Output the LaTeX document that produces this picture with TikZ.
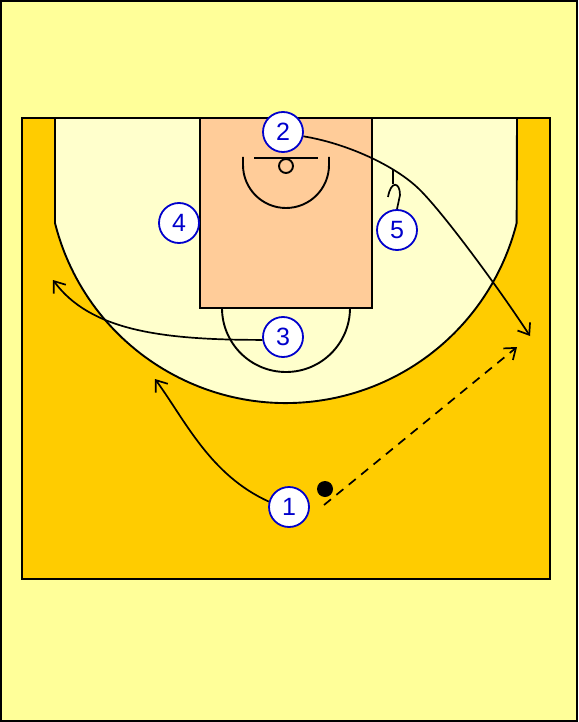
\documentclass[tikz,border=0pt]{standalone}
\usepackage{fontspec}
\setmainfont{Liberation Sans}
\usetikzlibrary{arrows.meta}
\definecolor{bgyel}{RGB}{255,255,153}
\definecolor{courtgold}{RGB}{255,204,0}
\definecolor{cream}{RGB}{255,255,204}
\definecolor{peach}{RGB}{255,204,153}
\definecolor{pblue}{RGB}{0,0,204}
\tikzset{
  player/.style={circle, draw=pblue, fill=white, line width=1.8pt, minimum size=40pt, inner sep=0pt,
    text=pblue, font=\fontsize{25}{25}\selectfont},
  courtline/.style={draw=black, line width=1.9pt},
  move/.style={draw=black, line width=1.7pt, -{Straight Barb[length=10pt,width=15pt,line width=1.7pt]}},
  pass/.style={move, dash pattern=on 9pt off 7pt},
  screenline/.style={draw=black, line width=1.7pt},
}
\begin{document}
\begin{tikzpicture}[x=1pt,y=-1pt]
\useasboundingbox (0,0) rectangle (578,722);
% background
\draw[fill=bgyel, line width=2.2pt] (1,1) rectangle (577,721);
% court
\fill[courtgold] (22,118) rectangle (550,579);
% three point area
\fill[cream] (55,118) -- (55,223) arc[start angle=165.9, end angle=14.1, radius=238] -- (517,118) -- cycle;
\draw[courtline] (55,118) -- (55,223) arc[start angle=165.9, end angle=14.1, radius=238] -- (517,118);
% paint
\draw[courtline, fill=peach] (200,118) rectangle (372,308);
% free throw circle (lower half)
\draw[courtline] (222,308) arc[start angle=180, end angle=0, radius=64];
% restricted area
\draw[courtline] (243,157) -- (243,165) arc[start angle=180, end angle=0, radius=43] -- (329,157);
% backboard and basket
\draw[courtline] (254,158) -- (318,158);
\draw[courtline] (286,166) circle[radius=7];
% court border
\draw[line width=2.3pt] (22,118) rectangle (550,579);

% players
\node[player] (p1) at (289,507) {1};
\node[player] (p2) at (283,132) {2};
\node[player] (p3) at (283,337) {3};
\node[player] (p4) at (179,223) {4};
\node[player] (p5) at (397,230) {5};
% ball
\node[circle, fill=black, minimum size=16pt, inner sep=0pt] (ball) at (325,489) {};

% end points
\coordinate (e2) at (530,336);
\coordinate (m2) at (420,190);
\coordinate (e3) at (53,280);
\coordinate (e1) at (155,379);
\coordinate (ps) at (324,505);
\coordinate (pe) at (517,347);
\coordinate (s5a) at (400,195);
\coordinate (s5b) at (388,197);
\coordinate (s5c) at (393,184);
\coordinate (s5d) at (393,169);

% movements
\draw[move] (p2.-12) .. controls (345,143) and (395,165) .. (m2) .. controls (445,215) and (500,290) .. (e2);
\draw[move] (p3.188) .. controls (160,340) and (90,330) .. (e3);
\draw[move] (p1.165) .. controls (210,475) and (185,420) .. (e1);
\draw[pass] (ps) -- (pe);
% screen by 5
\draw[screenline] (p5.north) -- (s5a) .. controls (400,182) and (391,180) .. (s5b);
\draw[screenline] (s5c) -- (s5d);
\end{tikzpicture}
\end{document}
